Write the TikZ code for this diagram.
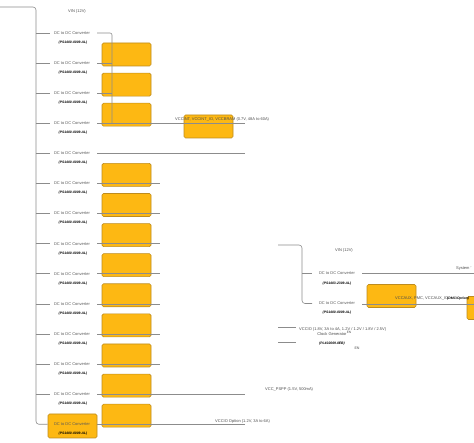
\documentclass[tikz,border=0pt]{standalone}
\usepackage{fontspec}
\setmainfont{Liberation Sans}
\definecolor{oboxfill}{RGB}{253,184,19}
\definecolor{oboxline}{RGB}{190,140,30}
\begin{document}
\begin{tikzpicture}[x=1pt,y=-1pt,
  wire/.style={draw=black!45, line width=0.6pt},
  conv/.style={font=\fontsize{4}{4.8}\selectfont, text=black!65, inner sep=0pt},
  part/.style={font=\fontsize{3.4}{4}\selectfont\bfseries\itshape, inner sep=0pt},
  obox/.style={draw=oboxline, fill=oboxfill, rounded corners=1.5pt, line width=0.6pt,
               minimum width=49pt, minimum height=23pt, inner sep=0pt},
  lbl/.style={font=\fontsize{4}{4.8}\selectfont, text=black!70, inner sep=0pt}]
\useasboundingbox (0,0) rectangle (474,443);
\clip (0,0) rectangle (474,443);
% orange boxes
\foreach \k in {0,1,2,4,5,6,7,8,9,10,11,12}
  \node[obox] (b\k) at (126.5,{54.5+30.1*\k}) {};
\node[obox, minimum height=24pt] (blast) at (72.5,426) {};
\node[obox] (bint) at (208.5,126.5) {};
\node[obox] (bx1) at (391.5,296) {};
\node[obox] (bx2) at (491.5,308) {};
% left column of converters
\node[lbl] (vin1) at (77,11) {VIN (12V)};
\foreach \k in {0,...,13} {
  \pgfmathsetmacro\yy{33+30.1*\k}
  \node[conv] (c\k) at (72,\yy) {DC to DC Converter};
  \node[part] (p\k) at (73,\yy+9.5) {(PS1400-0009-AL)};
  \coordinate (t\k) at (36,\yy);
  \coordinate (l\k) at (50,\yy);
  \coordinate (r\k) at (97,\yy);
}
\coordinate (top) at (0,7);
\draw[wire, rounded corners=3pt] (top) -- (36,7) -- (36,{33+30.1*13}) -- (blast.west |- c13);
\foreach \k in {0,...,12}
  \draw[wire] (t\k) -- (l\k);
% right hand wires of left column
\coordinate (v0) at (112,33);
\coordinate (v3) at (112,{33+30.1*3});
\draw[wire, rounded corners=2pt] (r0) -- (v0) -- (v3);
\draw[wire] (r1) -- (r1 -| v0);
\draw[wire] (r2) -- (r2 -| v0);
\foreach \k in {3,4,12,13}
  \draw[wire] (r\k) -- ++(148,0);
\foreach \k in {5,...,11}
  \draw[wire] (r\k) -- ++(63,0);
\node[lbl, anchor=west] (vint) at (175,119) {VCCINT, VCCINT\_IO, VCCBRAM (0.7V, 48A to 60A)};
\node[lbl, anchor=west] (vpspp) at (265,389.5) {VCC\_PSPP (1.5V, 500mA)};
\node[lbl, anchor=west] (vopt) at (215,421) {VCCIO Option (1.2V, 3A to 6A)};
% right group
\coordinate (rin) at (278,245);
\node[lbl] (vin2) at (344,250) {VIN (12V)};
\node[conv] (d0) at (337,273.5) {DC to DC Converter};
\node[part] (q0) at (337,283.5) {(PS1403-2309-AL)};
\node[conv] (d1) at (337,303.5) {DC to DC Converter};
\node[part] (q1) at (337,313) {(PS1400-0009-AL)};
\draw[wire, rounded corners=3pt] (rin) -- (302,245) -- (302,303.5) -- (312,303.5);
\draw[wire] (302,273.5) -- (312,273.5);
\coordinate (e0) at (474,273.5);
\coordinate (e1) at (474,304);
\draw[wire] (362,273.5) -- (e0);
\draw[wire] (362,304) -- (e1);
\node[lbl, anchor=west] (sys) at (456,269) {System '};
\node[lbl, anchor=west] (vaux) at (395,299) {VCCAUX, PMC, VCCAUX\_IO};
\node[part, anchor=west] (vauxb) at (447,299) {(DMC/Option)};
% clock generator
\coordinate (k0) at (278,327);
\coordinate (k1) at (278,342.5);
\draw[wire] (k0) -- ++(18,0);
\draw[wire] (k1) -- ++(18,0);
\node[lbl, anchor=west] (vccio) at (299,329.5) {VCCIO (1.8V, 3A to 4A, 1.2V / 1.2V / 1.8V / 2.5V)};
\node[lbl] (clk) at (332,334.5) {Clock Generator};
\node[lbl, font=\fontsize{3.2}{4}\selectfont] (en1) at (349,332) {EN};
\node[part] (clkp) at (332,344) {(PL402069.0EB)};
\node[lbl, font=\fontsize{3.6}{4}\selectfont] (en2) at (357,348) {EN};
\end{tikzpicture}
\end{document}
